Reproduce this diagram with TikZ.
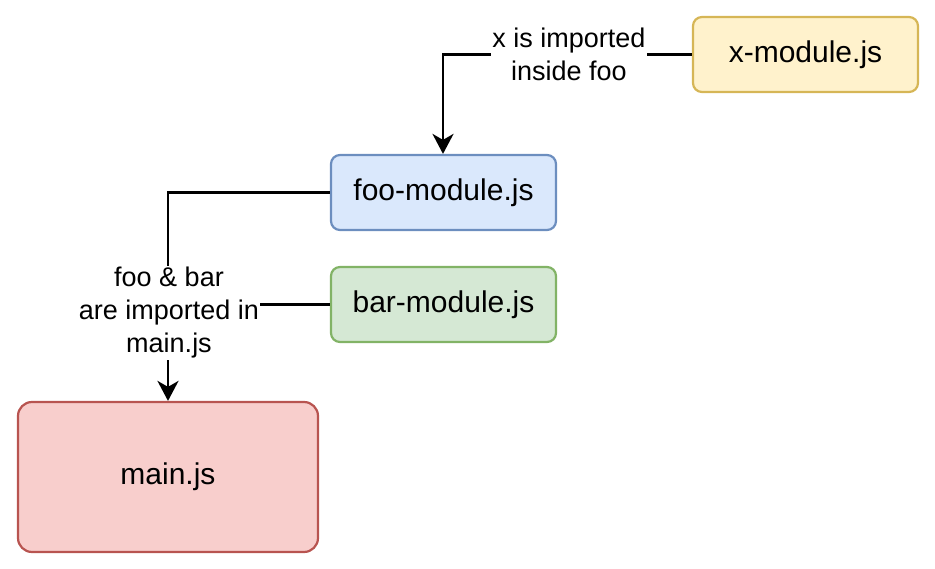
\documentclass[tikz,border=0pt]{standalone}
\usepackage{fontspec}
\setmainfont{Liberation Sans}
\usetikzlibrary{arrows.meta}
\definecolor{yfill}{HTML}{FFF2CC}\definecolor{ydraw}{HTML}{D6B656}
\definecolor{bfill}{HTML}{DAE8FC}\definecolor{bdraw}{HTML}{6C8EBF}
\definecolor{gfill}{HTML}{D5E8D4}\definecolor{gdraw}{HTML}{82B366}
\definecolor{rfill}{HTML}{F8CECC}\definecolor{rdraw}{HTML}{B85450}
\tikzset{
  modbox/.style={draw, rounded corners=9pt, line width=2.2pt, minimum width=225pt, minimum height=75pt, inner sep=0pt, font=\fontsize{30}{34}\selectfont},
  conn/.style={line width=2.5pt, draw=black},
  elabel/.style={fill=white, align=center, inner sep=1pt, font=\fontsize{27}{33}\selectfont},
  tip/.style={-{Stealth[length=20pt,width=21pt,inset=6pt]}}
}
\begin{document}
\begin{tikzpicture}[x=1pt,y=-1pt]
\useasboundingbox (0,0) rectangle (935,569);
\node[modbox, fill=yfill, draw=ydraw] (x) at (805.5,54.5) {x-module.js};
\node[modbox, fill=bfill, draw=bdraw] (foo) at (443.5,192.5) {foo-module.js};
\node[modbox, fill=gfill, draw=gdraw] (bar) at (443.5,304.5) {bar-module.js};
\node[modbox, fill=rfill, draw=rdraw, minimum width=300pt, minimum height=150pt, rounded corners=14pt] (main) at (168,477) {main.js};
\coordinate (c1) at (443,54.5);
\coordinate (c2) at (168,192.5);
\draw[conn, tip] (x.west) -- (c1) -- (foo.north -| c1);
\draw[conn, tip] (foo.west) -- (c2) -- (main.north);
\node[elabel] (l1) at (569,54) {x is imported\\inside foo};
\node[elabel] (l2) at (169,313) {foo \& bar\\are imported in\\main.js};
\draw[conn] (bar.west) -- (l2.east |- bar.west);
\end{tikzpicture}
\end{document}
